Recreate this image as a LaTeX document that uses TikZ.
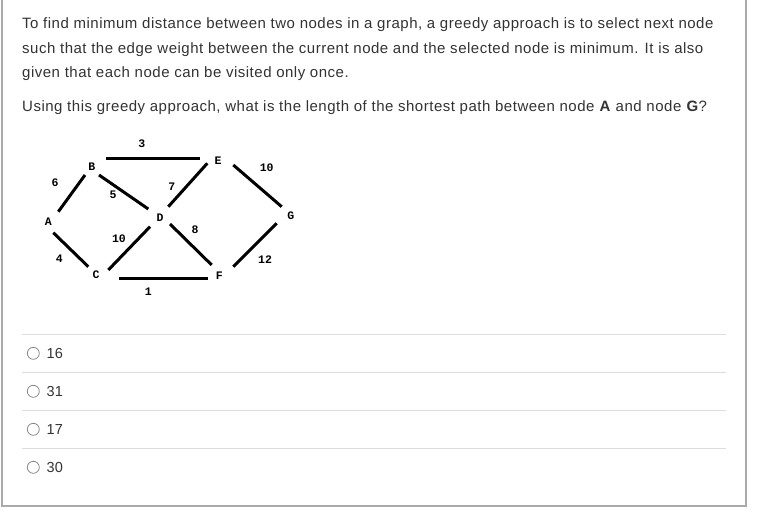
\documentclass[tikz,border=0pt]{standalone}
\usepackage{fontspec}
\setmainfont{Liberation Sans}
\newfontfamily\qfont[LetterSpace=3.4]{Liberation Sans}
\newfontfamily\graphfont{Liberation Mono}
\begin{document}
\begin{tikzpicture}[x=1pt,y=-1pt,
  qtext/.style={anchor=base west,inner sep=0pt,text=txtgray,font=\qfont\fontsize{15}{18}\selectfont},
  otext/.style={anchor=base west,inner sep=0pt,text=txtgray,font=\fontsize{14.5}{18}\selectfont},
  lbl/.style={inner sep=0pt,font=\graphfont\bfseries\fontsize{11.5}{13}\selectfont},
  edge/.style={line width=3pt,black},
  sep/.style={draw=sepgray,line width=1pt},
  radio/.style={circle,draw=radiogray,line width=0.8pt,minimum size=12pt,inner sep=0pt},
  frame/.style={draw=framegray,line width=1.5pt}]
\definecolor{txtgray}{HTML}{333333}
\definecolor{sepgray}{HTML}{DDDDDD}
\definecolor{radiogray}{HTML}{888888}
\definecolor{framegray}{HTML}{AAAAAA}
\useasboundingbox (0,0) rectangle (768,511);
\fill[white] (0,0) rectangle (768,511);
% frame
\coordinate (ftl) at (2,-2);
\coordinate (fbl) at (2,506);
\coordinate (fbr) at (746,506);
\coordinate (ftr) at (746,-2);
\draw[frame] (ftl) -- (fbl) -- (fbr) -- (ftr);
% question text
\node[qtext] (q1) at (22,28.8) {To find minimum distance between two nodes in a graph, a greedy approach is to select next node};
\node[qtext] (q2) at (22,53.3) {such that the edge weight between the current node and the selected node is minimum. It is also};
\node[qtext] (q3) at (22,77.5) {given that each node can be visited only once.};
\node[qtext] (q4) at (22,111.7) {Using this greedy approach, what is the length of the shortest path between node \textbf{A} and node \textbf{G}?};
% graph node letters
\node[lbl] (A) at (48.3,221.7) {A};
\node[lbl] (B) at (91.7,166.7) {B};
\node[lbl] (C) at (96,275) {C};
\node[lbl] (D) at (160,217.3) {D};
\node[lbl] (E) at (218,160.7) {E};
\node[lbl] (F) at (219.3,276) {F};
\node[lbl] (G) at (290.7,216) {G};
% weights
\node[lbl] (w3) at (141.7,144) {3};
\node[lbl] (w10a) at (266.7,168) {10};
\node[lbl] (w6) at (55,183) {6};
\node[lbl] (w5) at (113,195) {5};
\node[lbl] (w7) at (171.7,186.7) {7};
\node[lbl] (w8) at (195,230) {8};
\node[lbl] (w10b) at (119,238.3) {10};
\node[lbl] (w4) at (59.3,258.3) {4};
\node[lbl] (w12) at (265,260) {12};
\node[lbl] (w1) at (148.3,291.7) {1};
% edge end points
\coordinate (ab1) at (58.3,211.7); \coordinate (ab2) at (85,175);
\coordinate (bd1) at (99,175);     \coordinate (bd2) at (148.3,209);
\coordinate (be1) at (106,158);    \coordinate (be2) at (200,158);
\coordinate (de1) at (168.3,206.7);\coordinate (de2) at (207.3,163.3);
\coordinate (eg1) at (233.3,165);  \coordinate (eg2) at (281.7,206.7);
\coordinate (ac1) at (53.3,232.7); \coordinate (ac2) at (88.3,266.7);
\coordinate (cd1) at (108.3,270);  \coordinate (cd2) at (150,226.7);
\coordinate (df1) at (170,224);    \coordinate (df2) at (211.7,265);
\coordinate (fg1) at (233.3,266.7);\coordinate (fg2) at (276.7,223.3);
\coordinate (cf1) at (119.3,278.3);\coordinate (cf2) at (208.3,278.3);
\draw[edge] (ab1) -- (ab2);
\draw[edge] (bd1) -- (bd2);
\draw[edge] (be1) -- (be2);
\draw[edge] (de1) -- (de2);
\draw[edge] (eg1) -- (eg2);
\draw[edge] (ac1) -- (ac2);
\draw[edge] (cd1) -- (cd2);
\draw[edge] (df1) -- (df2);
\draw[edge] (fg1) -- (fg2);
\draw[edge] (cf1) -- (cf2);
% separators
\foreach \yy/\nm in {334/s1,372/s2,410/s3,448/s4}{
  \coordinate (\nm a) at (22,\yy);
  \coordinate (\nm b) at (726,\yy);
  \draw[sep] (\nm a) -- (\nm b);
}
% options
\foreach \yy/\val/\nm in {353.3/16/o1,391.3/31/o2,429.3/17/o3,467.3/30/o4}{
  \node[radio] (\nm r) at (33.3,\yy) {};
  \node[otext] (\nm t) at (46.5,\yy+5) {\val};
}
\end{tikzpicture}
\end{document}
